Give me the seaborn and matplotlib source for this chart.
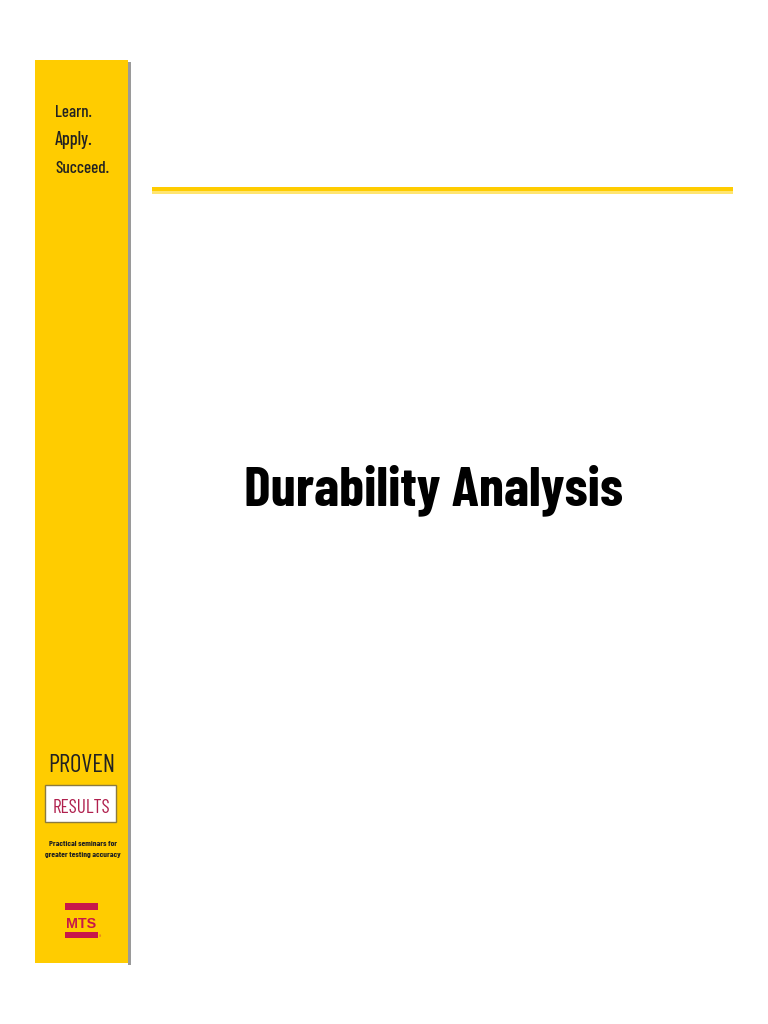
import matplotlib
matplotlib.use("Agg")
import matplotlib.pyplot as plt
import seaborn as sns
from matplotlib.patches import Rectangle

sns.set_theme(style="white")
COND = 'Barlow Condensed'
plt.rcParams['font.family'] = [COND, 'DejaVu Sans']

# Slide content
title = "Durability Analysis"
tagline = ["Learn.", "Apply.", "Succeed."]
brand_top = "PROVEN"
brand_box = "RESULTS"
subline = ["Practical seminars for", "greater testing accuracy"]
logo_text = "MTS"

YELLOW = "#FFCC00"
RED = "#C8174A"

fig = plt.figure(figsize=(7.68, 10.24), dpi=100)
ax = fig.add_axes([0, 0, 1, 1])
ax.set_xlim(0, 768)
ax.set_ylim(1024, 0)
ax.axis("off")
renderer = fig.canvas.get_renderer()


def fit(x, y, s, width, size, **kw):
    t = ax.text(x, y, s, fontsize=size, **kw)
    w = t.get_window_extent(renderer).width
    t.set_fontsize(size * width / w)
    return t


# shadow + yellow sidebar
ax.add_patch(Rectangle((128, 62), 3, 903, color="#9a9a9a", lw=0))
ax.add_patch(Rectangle((35, 60), 93, 903, color=YELLOW, lw=0))

# horizontal rule
ax.add_patch(Rectangle((152, 186.5), 581, 4, color=YELLOW, lw=0))
ax.add_patch(Rectangle((152, 190.5), 581, 3.5, color="#FFE570", lw=0))

# tagline
tag_w = [37, 38, 54]
for i, t in enumerate(tagline):
    fit(55, 117 + i * 28, t, tag_w[i], 14, weight=500, color="#222222",
        va="baseline", ha="left")

# PROVEN RESULTS
fit(81.5, 772, brand_top, 67, 20, weight=400, color="#222222", va="baseline", ha="center")
ax.add_patch(Rectangle((45, 784.5), 71, 37, facecolor="white", edgecolor="#8a7a40", lw=1))
fit(81, 813, brand_box, 58, 20, weight=400, color="#B0204E", va="baseline", ha="center")

sub_w = [68, 76]
for i, t in enumerate(subline):
    fit(83, 845.5 + i * 12, t, sub_w[i], 8, weight=700, color="#222222",
        va="baseline", ha="center")

# MTS logo
ax.add_patch(Rectangle((65, 903), 33, 7, color=RED, lw=0))
ax.add_patch(Rectangle((65, 932), 33, 6, color=RED, lw=0))
fit(81.5, 927.5, logo_text, 30, 12, family=["Liberation Sans", 'DejaVu Sans'],
    weight="bold", color=RED, va="baseline", ha="center")
ax.text(99, 938, "®", fontsize=3.5, color=RED, va="center", ha="left")

# title
fit(433, 505, title, 380, 44, weight="bold", color="black", va="baseline", ha="center")

fig.savefig("out.png", dpi=100)
